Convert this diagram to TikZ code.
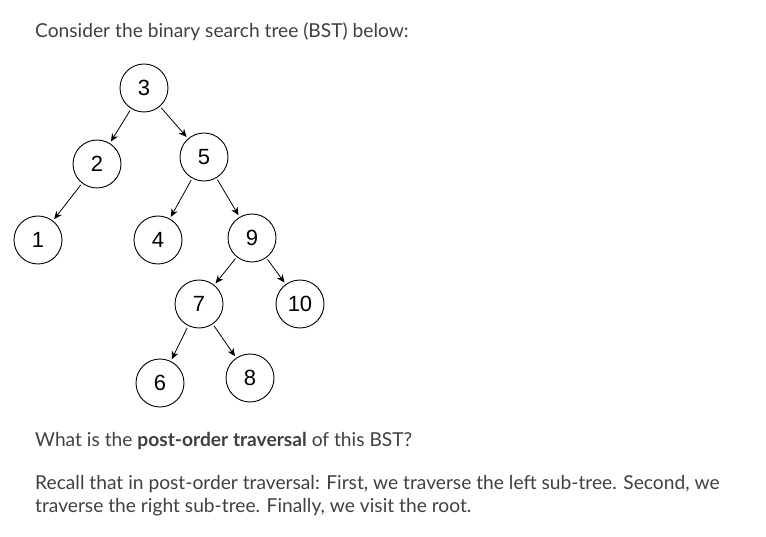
\documentclass[tikz,border=0pt]{standalone}
\usepackage{fontspec}
\setmainfont{Lato}
\newfontfamily\nodefont{Liberation Sans}
\usetikzlibrary{arrows.meta}
\begin{document}
\begin{tikzpicture}[x=1pt,y=-1pt,
  bst/.style={circle,draw,line width=0.9pt,minimum size=48pt,inner sep=0pt,font=\nodefont\fontsize{22}{24}\selectfont},
  edge/.style={-{Stealth[length=8pt,width=7pt]},line width=0.8pt,shorten <=2pt,shorten >=2pt},
  txt/.style={anchor=base west,inner sep=0pt,text=black!75,font=\fontsize{19.2}{22}\selectfont}]
\useasboundingbox (0,0) rectangle (766,537);
\node[txt] (t1) at (35,38) {Consider the binary search tree (BST) below:};
\node[bst] (n3) at (144,88) {3};
\node[bst] (n2) at (97,164) {2};
\node[bst] (n5) at (204,157) {5};
\node[bst] (n1) at (38,240) {1};
\node[bst] (n4) at (158,240) {4};
\node[bst] (n9) at (252,238) {9};
\node[bst] (n7) at (199,304) {7};
\node[bst] (n10) at (300,304) {10};
\node[bst] (n6) at (160,383) {6};
\node[bst] (n8) at (250,378) {8};
\draw[edge] (n3) -- (n2);
\draw[edge] (n3) -- (n5);
\draw[edge] (n2) -- (n1);
\draw[edge] (n5) -- (n4);
\draw[edge] (n5) -- (n9);
\draw[edge] (n9) -- (n7);
\draw[edge] (n9) -- (n10);
\draw[edge] (n7) -- (n6);
\draw[edge] (n7) -- (n8);
\node[txt] (t2) at (35,446) {What is the \textbf{post-order traversal} of this BST?};
\node[txt] (t3) at (35,489) {Recall that in post-order traversal: First, we traverse the left sub-tree. Second, we};
\node[txt] (t4) at (35,512) {traverse the right sub-tree. Finally, we visit the root.};
\end{tikzpicture}
\end{document}
